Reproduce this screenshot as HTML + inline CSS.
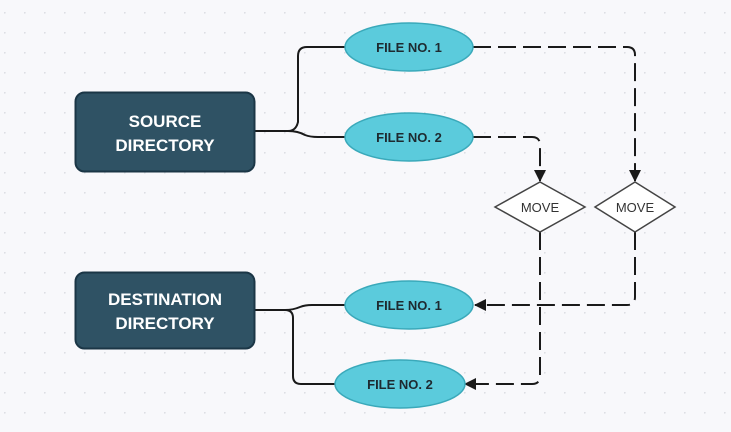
<!DOCTYPE html>
<html><head><meta charset="utf-8"><style>
html,body{margin:0;padding:0;background:#f8f8fb;}
svg{display:block;}
text{font-family:"Liberation Sans",sans-serif;}
</style></head><body>
<svg width="731" height="432" viewBox="0 0 731 432" xmlns="http://www.w3.org/2000/svg">
<defs>
<pattern id="g" x="4" y="12" width="20" height="20" patternUnits="userSpaceOnUse">
<circle cx="0.8" cy="0.8" r="0.9" fill="#dcdde3"/>
</pattern>
<marker id="a" markerWidth="12" markerHeight="12" refX="11" refY="6" orient="auto" markerUnits="userSpaceOnUse">
<path d="M0,0 L12,6 L0,12 Z" fill="#1a1a1a"/>
</marker>
</defs>
<rect width="731" height="432" fill="#f8f8fb"/>
<rect width="731" height="432" fill="url(#g)"/>
<g fill="none" stroke="#1a1a1a" stroke-width="2">
<path d="M255,131 H288 Q296,131 298,122 V56 Q298,47 307,47 H345"/>
<path d="M288,131 Q298,131 305,135 Q310,137 318,137 H345"/>
<path d="M255,310 H285 Q293,310 293,318 V376 Q293,384 301,384 H335"/>
<path d="M285,310 Q293,310 300,307 Q305,305 312,305 H345"/>
</g>
<g fill="none" stroke="#1a1a1a" stroke-width="2" stroke-dasharray="18,7">
<path d="M473,47 H627 Q635,47 635,55 V181" marker-end="url(#a)"/>
<path d="M473,137 H532 Q540,137 540,145 V181" marker-end="url(#a)"/>
<path d="M635,232 V297 Q635,305 627,305 H475" marker-end="url(#a)"/>
<path d="M540,232 V376 Q540,384 532,384 H465" marker-end="url(#a)"/>
</g>
<rect x="75.5" y="92.5" width="179" height="79" rx="9" fill="#2f5264" stroke="#1b3646" stroke-width="2"/>
<text x="165" y="127" text-anchor="middle" fill="#fff" font-size="17" font-weight="bold">SOURCE</text>
<text x="165" y="151" text-anchor="middle" fill="#fff" font-size="17" font-weight="bold">DIRECTORY</text>
<rect x="75.5" y="272.5" width="179" height="76" rx="9" fill="#2f5264" stroke="#1b3646" stroke-width="2"/>
<text x="165" y="305" text-anchor="middle" fill="#fff" font-size="17" font-weight="bold">DESTINATION</text>
<text x="165" y="329" text-anchor="middle" fill="#fff" font-size="17" font-weight="bold">DIRECTORY</text>
<g fill="#5bcbdc" stroke="#3aa9ba" stroke-width="1.5">
<ellipse cx="409" cy="47" rx="64" ry="24"/>
<ellipse cx="409" cy="137" rx="64" ry="24"/>
<ellipse cx="409" cy="305" rx="64" ry="24"/>
<ellipse cx="400" cy="384" rx="65" ry="24"/>
</g>
<g fill="#1e2a30" font-size="13" text-anchor="middle" font-weight="bold">
<text x="409" y="52">FILE NO. 1</text>
<text x="409" y="142">FILE NO. 2</text>
<text x="409" y="310">FILE NO. 1</text>
<text x="400" y="389">FILE NO. 2</text>
</g>
<g fill="#fff" stroke="#444" stroke-width="1.5">
<polygon points="540,182 585,207 540,232 495,207"/>
<polygon points="635,182 675,207 635,232 595,207"/>
</g>
<g fill="#333" font-size="13" text-anchor="middle">
<text x="540" y="212">MOVE</text>
<text x="635" y="212">MOVE</text>
</g>
</svg>
</body></html>
